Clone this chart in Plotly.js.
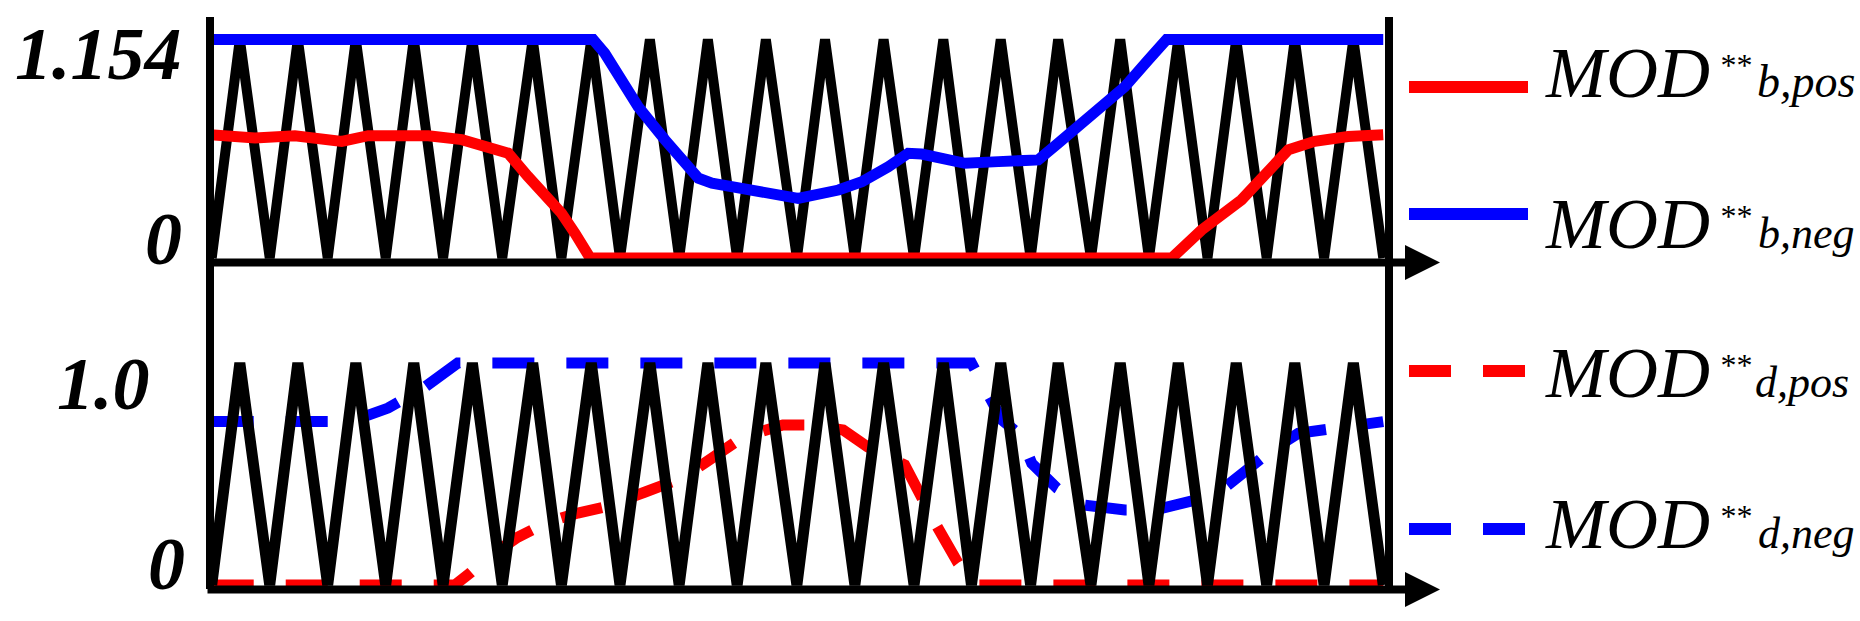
<!DOCTYPE html>
<html>
<head>
<meta charset="utf-8">
<script src="https://cdn.plot.ly/plotly-3.0.1.min.js"></script>
<style>
  html, body { margin: 0; padding: 0; background: #ffffff; }
  #chart { width: 1860px; height: 621px; }
</style>
</head>
<body>
<div id="chart"></div>
<script>
// carrier vertices, x in carrier periods
const carrierTroughX = [0, 0.99, 1.98, 2.97, 3.95, 4.96, 5.97, 6.97, 7.98, 8.97, 9.99,
  10.98, 11.99, 12.97, 13.98, 15.01, 16.0, 17.0, 18.01, 18.99, 20];
const carrierPeakX = [0.48, 1.47, 2.46, 3.45, 4.45, 5.48, 6.48, 7.48, 8.47, 9.46,
  10.47, 11.47, 12.49, 13.47, 14.45, 15.51, 16.5, 17.49, 18.49, 19.49];
const topCarrierPeak = 1.154;
const bottomCarrierPeak = 1.0;

// MOD**b,pos
const topPosX = [0, 0.74, 1.42, 2.22, 2.67, 3.7, 4.27, 4.84, 5.06, 5.4, 5.75, 5.97, 6.2, 6.46,
  16.39, 16.9, 17.58, 18.04, 18.38, 18.83, 19.4, 20];
const topPosY = [0.651, 0.634, 0.646, 0.616, 0.646, 0.646, 0.625, 0.581, 0.554, 0.43, 0.324,
  0.237, 0.131, 0, 0, 0.148, 0.307, 0.466, 0.572, 0.616, 0.642, 0.651];

// MOD**b,neg
const topNegX = [0, 6.51, 6.71, 6.94, 7.28, 7.74, 8.08, 8.31, 8.54, 9.1, 9.67, 10.01, 10.7,
  11.1, 11.55, 11.89, 12.12, 12.4, 12.86, 13.43, 13.88, 14.11, 14.45, 14.85, 15.59, 15.99, 16.3, 20];
const topNegY = [1.154, 1.154, 1.081, 0.958, 0.799, 0.623, 0.5, 0.421, 0.395, 0.368, 0.333,
  0.315, 0.359, 0.403, 0.482, 0.553, 0.549, 0.527, 0.5, 0.509, 0.509, 0.518, 0.606, 0.711,
  0.905, 1.046, 1.154, 1.154];

// MOD**d,pos
const bottomPosX = [0, 4.15, 4.41, 4.72, 5.23, 5.74, 6.25, 6.71, 7.4, 8.03, 8.42, 9.07, 9.75,
  10.21, 10.78, 11.2, 11.83, 12.09, 12.35, 12.74, 13.03, 20];
const bottomPosY = [0, 0, 0.054, 0.126, 0.216, 0.284, 0.324, 0.351, 0.419, 0.482, 0.55, 0.667,
  0.721, 0.721, 0.698, 0.622, 0.541, 0.396, 0.279, 0.099, 0, 0];

// MOD**d,neg
const bottomNegX = [0, 2.02, 2.53, 3.01, 3.64, 4.02, 4.2, 12.97, 13.17, 13.49, 13.8, 14.0,
  14.43, 14.91, 15.59, 16.11, 17.13, 17.64, 18.1, 18.55, 19.23, 19.74, 20];
const bottomNegY = [0.736, 0.736, 0.752, 0.797, 0.892, 0.968, 1.0, 1.0, 0.893, 0.743, 0.676,
  0.548, 0.436, 0.36, 0.338, 0.338, 0.405, 0.51, 0.608, 0.683, 0.713, 0.736, 0.736];

const topTickVals = [1.154, 0];
const topTickText = ["1.154", "0"];
const bottomTickVals = [1.0, 0];
const bottomTickText = ["1.0", "0"];

const legendMain = "MOD";
const legendSup = "**";
const legendSub = ["b,pos", "b,neg", "d,pos", "d,neg"];

const W = 1860;
const H = 621;
const serif = "Liberation Serif, Times New Roman, serif";
const red = "#ff0000";
const blue = "#0000ff";
const dashed = "42px,32px";

function px(x) {
  return x / W;
}

function py(y) {
  return 1 - y / H;
}

function carrierPath(peak) {
  const xs = [];
  const ys = [];
  carrierTroughX.forEach((x, i) => {
    xs.push(x);
    ys.push(0);
    if (i < carrierPeakX.length) {
      xs.push(carrierPeakX[i]);
      ys.push(peak);
    }
  });
  return { xs, ys };
}

const topCarrier = carrierPath(topCarrierPeak);
const bottomCarrier = carrierPath(bottomCarrierPeak);

const traces = [
  // top panel: carrier under the references
  { x: topCarrier.xs, y: topCarrier.ys, xaxis: "x2", yaxis: "y2", mode: "lines",
    line: { color: "#000", width: 10 } },
  { x: topPosX, y: topPosY, xaxis: "x2", yaxis: "y2", mode: "lines",
    line: { color: red, width: 11 } },
  { x: topNegX, y: topNegY, xaxis: "x2", yaxis: "y2", mode: "lines",
    line: { color: blue, width: 11 } },
  // bottom panel: carrier drawn over the dashed references
  { x: bottomPosX, y: bottomPosY, xaxis: "x", yaxis: "y", mode: "lines",
    line: { color: red, width: 11, dash: dashed } },
  { x: bottomNegX, y: bottomNegY, xaxis: "x", yaxis: "y", mode: "lines",
    line: { color: blue, width: 11, dash: dashed } },
  { x: bottomCarrier.xs, y: bottomCarrier.ys, xaxis: "x", yaxis: "y", mode: "lines",
    line: { color: "#000", width: 11 } },
];

const yAxisStyle = {
  showline: true,
  mirror: true,
  linewidth: 8,
  linecolor: "#000",
  showgrid: false,
  zeroline: false,
  showticklabels: false,
  ticks: "",
  fixedrange: true,
};

const annotations = [];

// x axes with arrowheads
[262.5, 589.5].forEach((yPix) => {
  annotations.push({
    xref: "paper", yref: "paper", x: px(1440), y: py(yPix),
    axref: "pixel", ayref: "pixel", ax: -(1440 - 206), ay: 0,
    text: "", showarrow: true, arrowhead: 2, arrowsize: 0.875, arrowwidth: 8,
    arrowcolor: "#000",
  });
});

// tick labels
const tickFont = { family: serif, size: 74, color: "#000", style: "italic", weight: "bold" };
const tickRight = [184, 184, 152, 187];
const tickShift = [-14.5, 19, -21, 21];
const tickSpecs = [
  { yref: "y2", val: topTickVals[0], text: topTickText[0] },
  { yref: "y2", val: topTickVals[1], text: topTickText[1] },
  { yref: "y", val: bottomTickVals[0], text: bottomTickText[0] },
  { yref: "y", val: bottomTickVals[1], text: bottomTickText[1] },
];
tickSpecs.forEach((t, i) => {
  annotations.push({
    xref: "paper", yref: t.yref, x: px(tickRight[i]), y: t.val,
    xanchor: "right", yanchor: "middle", yshift: tickShift[i],
    text: t.text, showarrow: false, font: tickFont,
  });
});

// legend
const baselines = [97, 248, 397, 548];
const subLeft = [1755, 1756, 1753, 1756];
const subSize = [46, 44, 44, 44];
const legendColors = [red, blue, red, blue];
const legendDash = ["solid", "solid", dashed, dashed];
const legendLineY = [87, 214, 371, 529];
const shapes = [];

legendSub.forEach((sub, i) => {
  const b = baselines[i];
  shapes.push({
    type: "line", xref: "paper", yref: "paper",
    x0: px(1409), x1: px(1528), y0: py(legendLineY[i]), y1: py(legendLineY[i]),
    line: { color: legendColors[i], width: 12, dash: legendDash[i] },
  });
  annotations.push({
    xref: "paper", yref: "paper", x: px(1543), y: py(b - 0.3375 * 72),
    xanchor: "left", yanchor: "middle", text: legendMain, showarrow: false,
    font: { family: serif, size: 72, color: "#000", style: "italic" },
  });
  annotations.push({
    xref: "paper", yref: "paper", x: px(1717), y: py(b - 31.7),
    xanchor: "left", yanchor: "middle", text: legendSup, showarrow: false,
    font: { family: serif, size: 32, color: "#000", style: "italic" },
  });
  annotations.push({
    xref: "paper", yref: "paper", x: px(subLeft[i]), y: py(b - 0.3375 * subSize[i]),
    xanchor: "left", yanchor: "middle", text: sub, showarrow: false,
    font: { family: serif, size: subSize[i], color: "#000", style: "italic" },
  });
});

const layout = {
  width: W,
  height: H,
  margin: { t: 0, r: 0, b: 0, l: 0 },
  paper_bgcolor: "#ffffff",
  plot_bgcolor: "#ffffff",
  showlegend: false,
  xaxis: { domain: [px(214), px(1385)], range: [0.039, 20.03], anchor: "y", visible: false },
  xaxis2: { domain: [px(214), px(1385)], range: [0.039, 20.03], anchor: "y2", matches: "x", visible: false },
  yaxis: { ...yAxisStyle, domain: [py(589), py(262)], range: [-0.018, 1.455], anchor: "x" },
  yaxis2: { ...yAxisStyle, domain: [py(262), py(17)], range: [-0.0211, 1.2728], anchor: "x2" },
  annotations,
  shapes,
};

Plotly.newPlot("chart", traces, layout, { displayModeBar: false, staticPlot: true });
</script>
</body>
</html>
